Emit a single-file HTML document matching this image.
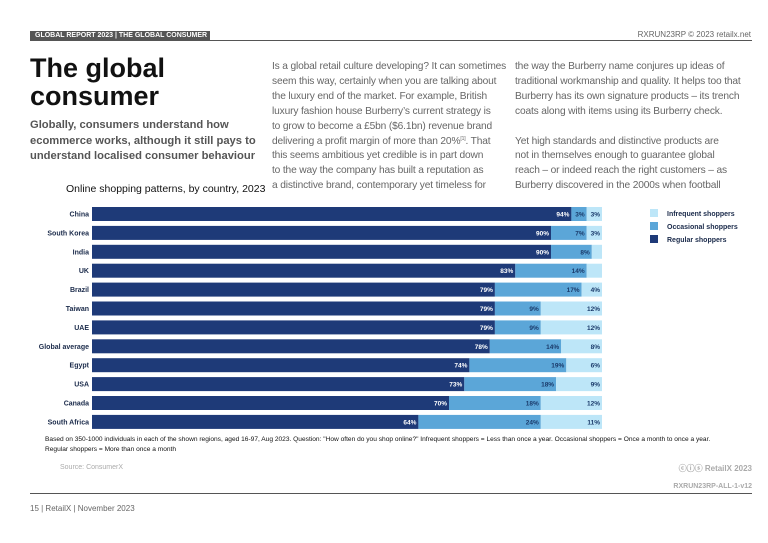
<!DOCTYPE html>
<html><head><meta charset="utf-8"><style>
body{margin:0;width:768px;height:543px;background:#fff;font-family:"Liberation Sans",sans-serif;position:relative;overflow:hidden}
.a{position:absolute}
.p{line-height:14.9px;color:#666;white-space:nowrap;letter-spacing:-0.15px;font-family:"Liberation Sans Narrow","Liberation Sans",sans-serif;font-size:10.2px}
sup{font-size:5px;line-height:0;vertical-align:4px}
</style></head><body>
<div class="a" style="left:30px;top:31px;width:180px;height:10px;background:#555;color:#fff;font-size:7px;font-weight:bold;line-height:10px;padding-left:5px;box-sizing:border-box">GLOBAL REPORT 2023 | THE GLOBAL CONSUMER</div>
<div class="a" style="left:30px;top:40px;width:722px;height:1px;background:#555"></div>
<div class="a" style="right:17px;top:30px;font-size:8px;color:#666">RXRUN23RP © 2023 retailx.net</div>
<div class="a" style="left:30px;top:54px;font-size:27px;font-weight:bold;line-height:28px;color:#111">The global<br>consumer</div>
<div class="a" style="left:30px;top:118px;font-size:11.2px;font-weight:bold;line-height:15.5px;color:#555;white-space:nowrap">Globally, consumers understand how<br>ecommerce works, although it still pays to<br>understand localised consumer behaviour</div>
<div class="a p" style="left:272px;top:60px">Is a global retail culture developing? It can sometimes<br>seem this way, certainly when you are talking about<br>the luxury end of the market. For example, British<br>luxury fashion house Burberry’s current strategy is<br>to grow to become a £5bn ($6.1bn) revenue brand<br>delivering a profit margin of more than 20%<sup>[1]</sup>. That<br>this seems ambitious yet credible is in part down<br>to the way the company has built a reputation as<br>a distinctive brand, contemporary yet timeless for</div>
<div class="a p" style="left:515px;top:60px">the way the Burberry name conjures up ideas of<br>traditional workmanship and quality. It helps too that<br>Burberry has its own signature products – its trench<br>coats along with items using its Burberry check.<br><br>Yet high standards and distinctive products are<br>not in themselves enough to guarantee global<br>reach – or indeed reach the right customers – as<br>Burberry discovered in the 2000s when football</div>
<div class="a" style="left:66px;top:183px;font-size:10.5px;color:#111">Online shopping patterns, by country, 2023</div>
<svg class="a" style="left:0;top:0" width="768" height="543" id="chart"></svg>
<div class="a" style="left:45px;top:435px;font-size:6.6px;line-height:9.5px;color:#111;width:720px">Based on 350-1000 individuals in each of the shown regions, aged 16-97, Aug 2023. Question: "How often do you shop online?" Infrequent shoppers = Less than once a year. Occasional shoppers = Once a month to once a year.<br>Regular shoppers = More than once a month</div>
<div class="a" style="left:60px;top:464px;font-size:7px;color:#aaa">Source: ConsumerX</div>
<div class="a" style="right:16px;top:463px;font-size:8px;color:#aaa;font-weight:bold">ⓒⓘⓢ RetailX 2023</div>
<div class="a" style="right:16px;top:483px;font-size:7px;color:#aaa;font-weight:bold">RXRUN23RP-ALL-1-v12</div>
<div class="a" style="left:30px;top:493px;width:722px;height:1px;background:#555"></div>
<div class="a" style="left:30px;top:504px;font-size:8px;color:#666">15 | RetailX | November 2023</div>
<script>
const countries=["China","South Korea","India","UK","Brazil","Taiwan","UAE","Global average","Egypt","USA","Canada","South Africa"];
const regular=[94,90,90,83,79,79,79,78,74,73,70,64];
const occasional=[3,7,8,14,17,9,9,14,19,18,18,24];
const infrequent=[3,3,2,3,4,12,12,8,6,9,12,11];
const showInfrequent=[true,true,false,false,true,true,true,true,true,true,true,true];
const legendLabels=["Infrequent shoppers","Occasional shoppers","Regular shoppers"];
const C=["#bde6f8","#5ba6d8","#1e3a78"];
const svg=document.getElementById('chart');
const NS='http://www.w3.org/2000/svg';
const X0=92,W=510,Y0=207,PITCH=18.9,BH=14;
const xs=v=>X0+v/100*W;
const ys=i=>Y0+i*PITCH;
function mk(t,a){const e=document.createElementNS(NS,t);for(const k in a)e.setAttribute(k,a[k]);svg.appendChild(e);return e;}
countries.forEach((c,i)=>{
  const y=ys(i);
  let l=mk('text',{x:X0-3,y:y+BH/2+2.5,'text-anchor':'end','font-size':7,'font-weight':'bold',fill:'#1a2a4a'});
  l.textContent=c;
  
  
  const segs=[[0,regular[i],C[2],'#fff',true],[regular[i],occasional[i],C[1],'#1a3a6a',true],[regular[i]+occasional[i],100-regular[i]-occasional[i],C[0],'#1a3a6a',showInfrequent[i]]];
  const vals=[regular[i],occasional[i],infrequent[i]];
  segs.forEach((s,j)=>{
    const r=mk('rect',{x:xs(s[0]),y:y,width:xs(s[0]+s[1])-xs(s[0]),height:BH,fill:s[2]});
    
    
    if(s[4]){
      const t=mk('text',{x:xs(s[0]+s[1])-2,y:y+BH/2+2.5,'text-anchor':'end','font-size':6.5,'font-weight':'bold',fill:s[3]});
      t.textContent=vals[j]+'%';
      
      
    }
  });
});
legendLabels.forEach((lb,k)=>{
  const y=209+k*13;
  const r=mk('rect',{x:650,y:y,width:8,height:8,fill:C[k]});
  
  
  const t=mk('text',{x:667,y:y+7,'font-size':7,'font-weight':'bold',fill:'#1a2a4a'});
  t.textContent=lb;
  
  
});
</script>
</body></html>
